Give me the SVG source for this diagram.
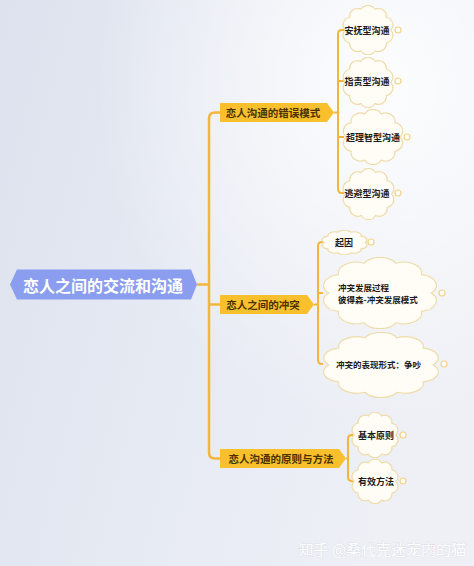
<svg xmlns="http://www.w3.org/2000/svg" xmlns:xlink="http://www.w3.org/1999/xlink" width="474" height="566" viewBox="0 0 474 566">
  <defs>
    <linearGradient id="bg" x1="0" y1="0" x2="1" y2="0.3">
      <stop offset="0" stop-color="#dde2ee"/>
      <stop offset="0.5" stop-color="#e6eaf3"/>
      <stop offset="1" stop-color="#eef0f6"/>
    </linearGradient>
    <radialGradient id="glow" cx="0.8" cy="0.15" r="0.6">
      <stop offset="0" stop-color="#ffffff" stop-opacity="0.9"/>
      <stop offset="1" stop-color="#ffffff" stop-opacity="0"/>
    </radialGradient>
    <symbol id="cloud" viewBox="4 4 92 92" preserveAspectRatio="none">
      <path d="M90 50 A14 14 0 0 1 82.36 73.51 A14 14 0 0 1 62.36 88.04 A14 14 0 0 1 37.64 88.04 A14 14 0 0 1 17.64 73.51 A14 14 0 0 1 10 50 A14 14 0 0 1 17.64 26.49 A14 14 0 0 1 37.64 11.96 A14 14 0 0 1 62.36 11.96 A14 14 0 0 1 82.36 26.49 A14 14 0 0 1 90 50 Z" fill="#fffdf6" stroke="#efdcaa" stroke-width="1.2" vector-effect="non-scaling-stroke"/>
    </symbol>
  </defs>
  <style>
    .cjk { font-family: "Noto Sans CJK SC", "Noto Sans", sans-serif; }
    .root { font-size: 16px; font-weight: bold; fill: #ffffff; }
    .br { font-size: 10.5px; font-weight: bold; fill: #4a3200; }
    .leaf { font-size: 9px; font-weight: bold; fill: #1a1a1a; }
    .leaf2 { font-size: 8.5px; font-weight: bold; fill: #1a1a1a; }
    .conn { fill: none; stroke: #f3b63a; stroke-width: 2; }
    .trunk { fill: none; stroke: #f3b63a; stroke-width: 2.5; }
    .dot { fill: #ffffff; stroke: #f2d388; stroke-width: 1.2; }
    .box { fill: #f8c02c; }
    .wm { font-size: 15px; fill: #ffffff; stroke: #d3d7e0; stroke-width: 0.6; paint-order: stroke; }
  </style>
  <rect width="474" height="566" fill="url(#bg)"/>
  <rect width="474" height="566" fill="url(#glow)"/>

  <g id="connectors">
    <path class="trunk" d="M197 284.5 H209"/>
    <path class="trunk" d="M220 112.5 H215 Q209 112.5 209 118.5 V452.5 Q209 458.5 215 458.5 H220"/>
    <path class="trunk" d="M209 304.5 H220"/>
    <path class="conn" d="M334 112.5 H338"/>
    <path class="conn" d="M344 30 H342 Q338 30 338 34 V189 Q338 193 342 193 H344"/>
    <path class="conn" d="M338 81 H344"/>
    <path class="conn" d="M338 137 H344"/>
    <path class="conn" d="M314 304.5 H318"/>
    <path class="conn" d="M323 242 H322 Q318 242 318 246 V360 Q318 364 322 364 H323"/>
    <path class="conn" d="M318 293 H323"/>
    <path class="conn" d="M346 458.5 H348"/>
    <path class="conn" d="M353 435 H352 Q348 435 348 439 V477 Q348 481 352 481 H353"/>
  </g>

  <g id="root">
    <path d="M10 284.5 L17 269.5 H191 L197 284.5 L191 299.5 H17 Z" fill="#8a9def"/>
    <text class="cjk root" x="103" y="284.5" text-anchor="middle" dominant-baseline="central">恋人之间的交流和沟通</text>
  </g>

  <g id="b1">
    <path class="box" d="M220 103 H327 L334 112.5 L327 122 H220 Z"/>
    <text class="cjk br" x="273" y="112.5" text-anchor="middle" dominant-baseline="central">恋人沟通的错误模式</text>
  </g>
  <g id="b2">
    <path class="box" d="M220 295 H307 L314 304.5 L307 314 H220 Z"/>
    <text class="cjk br" x="263" y="304.5" text-anchor="middle" dominant-baseline="central">恋人之间的冲突</text>
  </g>
  <g id="b3">
    <path class="box" d="M220 449 H339 L346 458.5 L339 468 H220 Z"/>
    <text class="cjk br" x="281" y="458.5" text-anchor="middle" dominant-baseline="central">恋人沟通的原则与方法</text>
  </g>

  <g id="n-anfu">
    <use xlink:href="#cloud" x="342" y="5" width="52" height="50"/>
    <circle class="dot" cx="398" cy="30" r="3"/>
    <text class="cjk leaf" x="367" y="30" text-anchor="middle" dominant-baseline="central">安抚型沟通</text>
  </g>
  <g id="n-zhize">
    <use xlink:href="#cloud" x="342" y="57" width="52" height="51"/>
    <circle class="dot" cx="398" cy="81" r="3"/>
    <text class="cjk leaf" x="367" y="81" text-anchor="middle" dominant-baseline="central">指责型沟通</text>
  </g>
  <g id="n-chaolizhi">
    <use xlink:href="#cloud" x="342" y="109" width="62" height="56"/>
    <circle class="dot" cx="407" cy="137" r="3"/>
    <text class="cjk leaf" x="373" y="137" text-anchor="middle" dominant-baseline="central">超理智型沟通</text>
  </g>
  <g id="n-taobi">
    <use xlink:href="#cloud" x="342" y="168" width="53" height="52"/>
    <circle class="dot" cx="398" cy="193" r="3"/>
    <text class="cjk leaf" x="367" y="193" text-anchor="middle" dominant-baseline="central">逃避型沟通</text>
  </g>

  <g id="n-qiyin">
    <use xlink:href="#cloud" x="321" y="230" width="47" height="25"/>
    <circle class="dot" cx="371" cy="242" r="3"/>
    <text class="cjk leaf" x="344" y="242" text-anchor="middle" dominant-baseline="central">起因</text>
  </g>
  <g id="n-fazhan">
    <use xlink:href="#cloud" x="321" y="257" width="118" height="72"/>
    <circle class="dot" cx="442" cy="293" r="3"/>
    <text class="cjk leaf2" x="338" y="287" dominant-baseline="central">冲突发展过程</text>
    <text class="cjk leaf2" x="338" y="298.5" dominant-baseline="central">彼得森-冲突发展模式</text>
  </g>
  <g id="n-zhengchao">
    <use xlink:href="#cloud" x="321" y="332" width="120" height="66"/>
    <circle class="dot" cx="444" cy="364" r="3"/>
    <text class="cjk leaf2" x="336" y="364" dominant-baseline="central">冲突的表现形式：争吵</text>
  </g>

  <g id="n-jiben">
    <use xlink:href="#cloud" x="351" y="412" width="48" height="46"/>
    <circle class="dot" cx="403" cy="435" r="3"/>
    <text class="cjk leaf" x="376" y="435" text-anchor="middle" dominant-baseline="central">基本原则</text>
  </g>
  <g id="n-youxiao">
    <use xlink:href="#cloud" x="351" y="459" width="48" height="45"/>
    <circle class="dot" cx="403" cy="481" r="3"/>
    <text class="cjk leaf" x="376" y="481" text-anchor="middle" dominant-baseline="central">有效方法</text>
  </g>

  <text class="cjk wm" x="466" y="548" text-anchor="end" dominant-baseline="central">知乎 @桑代克迷宠内的猫</text>
</svg>
